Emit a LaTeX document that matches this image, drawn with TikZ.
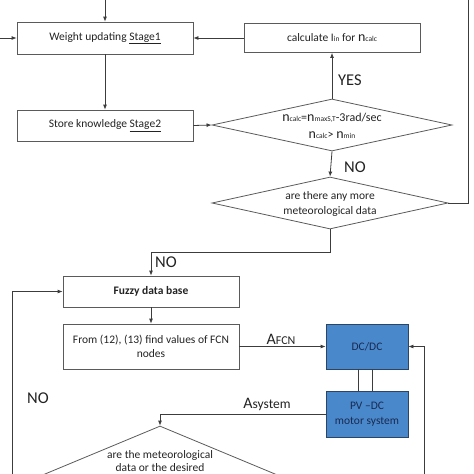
\documentclass[tikz,border=0pt]{standalone}
\usepackage{fontspec}
\setmainfont{Carlito}
\usetikzlibrary{arrows.meta,shapes.geometric}
\definecolor{lc}{RGB}{60,60,60}
\definecolor{bc}{RGB}{90,90,90}
\definecolor{tc}{RGB}{35,35,35}
\definecolor{bluef}{RGB}{74,136,204}
\definecolor{bluebd}{RGB}{45,68,98}
\definecolor{bluetxt}{RGB}{25,42,80}
\newcommand\smtxt[1]{{\fontsize{7.5}{8}\selectfont #1}}
\newcommand\bign{{\fontsize{14}{14}\selectfont n}}
\begin{document}
\begin{tikzpicture}[x=1pt,y=-1pt,
  arr/.style={draw=lc,line width=0.8pt,-{Latex[length=5pt,width=4pt]}},
  ln/.style={draw=lc,line width=0.8pt},
  box/.style={draw=bc,line width=0.8pt,rectangle,minimum width=176pt,inner sep=0pt,
    text=tc,font=\fontsize{11.5}{14}\selectfont,align=center},
  dia/.style={draw=bc,line width=0.8pt,diamond,inner sep=0pt},
  dtext/.style={inner sep=0pt,align=center,text=tc,font=\fontsize{11.5}{15}\selectfont},
  bluebox/.style={draw=bluebd,fill=bluef,line width=0.8pt,rectangle,minimum width=82pt,
    inner sep=0pt,text=bluetxt,font=\fontsize{11.5}{15}\selectfont,align=center},
  big/.style={inner sep=0pt,text=tc,font=\fontsize{16.5}{18}\selectfont}
]
\clip (0,0) rectangle (474,474);
% boxes
\node[box,minimum height=32pt] (weight) at (105,38) {Weight updating \underline{Stage1}};
\node[box,minimum height=31pt] (store) at (105,125.5) {Store knowledge \underline{Stage2}};
\node[box,minimum height=29pt] (calc) at (332,38) {calculate I\smtxt{in} for \bign\smtxt{calc}};
\node[box,minimum height=31pt,font=\fontsize{11.5}{14}\selectfont\bfseries] (fuzzy) at (151,291.5) {Fuzzy data base};
\node[box,minimum height=45pt] (fcn) at (151,346.5) {From (12), (13) find values of FCN\\nodes};
\node[bluebox,minimum height=45pt] (dc) at (367,346.5) {DC/DC};
\node[bluebox,minimum height=46pt] (pv) at (367,414) {PV –DC\\motor system};
% diamonds
\node[dia,minimum width=240pt,minimum height=52pt] (d1) at (332,125) {};
\node[dtext,font=\fontsize{12}{17}\selectfont] (d1t) at (332,125.5) {\bign\smtxt{calc}=\bign\smtxt{maxS,T}-3rad/sec\\\bign\smtxt{calc}> \bign\smtxt{min}};
\node[dia,minimum width=236pt,minimum height=52pt] (d2) at (330,203) {};
\node[dtext] (d2t) at (330,204) {are there any more\\meteorological data};
\node[dia,minimum width=288pt,minimum height=120pt] (d3) at (160,486) {};
\node[dtext,anchor=north,font=\fontsize{11.5}{13}\selectfont] (d3t) at (160,450) {are the meteorological\\data or the desired};
% free ends
\coordinate (ttop) at (105,-5);
\coordinate (ltop) at (-5,38);
\coordinate (rtop) at (468,-5);
\coordinate (lbot) at (12,480);
\coordinate (rbot) at (424,480);
% connectors
\draw[arr] (ttop) -- (weight.north);
\draw[arr] (ltop) -- (weight.west);
\draw[arr] (calc.west) -- (weight.east);
\draw[arr] (weight.south) -- (store.north);
\draw[arr] (store.east) -- (d1.west);
\draw[arr] (d1.north) -- (calc.south);
\draw[arr] (d1.south) -- (d2.north);
\draw[ln] (d2.east) -| (rtop);
\draw[arr] (d2.south) -- ++(0,23) -| (fuzzy.north);
\draw[arr] (lbot) |- (fuzzy.west);
\draw[arr] (fuzzy.south) -- (fcn.north);
\draw[arr] (fcn.east) -- (dc.west);
\draw[arr] (rbot) |- (dc.east);
\draw[ln] ([xshift=-9pt]dc.south) -- ([xshift=-9pt]pv.north);
\draw[ln] ([xshift=5pt]dc.south) -- ([xshift=5pt]pv.north);
\draw[arr] (pv.west) -| (d3.north);
% labels
\node[big,anchor=west] (yes) at (338,80) {YES};
\node[big,anchor=west] (no1) at (344,167) {NO};
\node[big,anchor=west] (no2) at (155,262) {NO};
\node[big,anchor=west] (no3) at (27,398) {NO};
\node[inner sep=0pt,anchor=base,text=tc] (afcn) at (281,344) {{\fontsize{16}{16}\selectfont A}{\fontsize{12}{12}\selectfont FCN}};
\node[inner sep=0pt,anchor=base,text=tc] (asys) at (267,408) {{\fontsize{16}{16}\selectfont A}{\fontsize{13.5}{14}\selectfont system}};
\end{tikzpicture}
\end{document}
